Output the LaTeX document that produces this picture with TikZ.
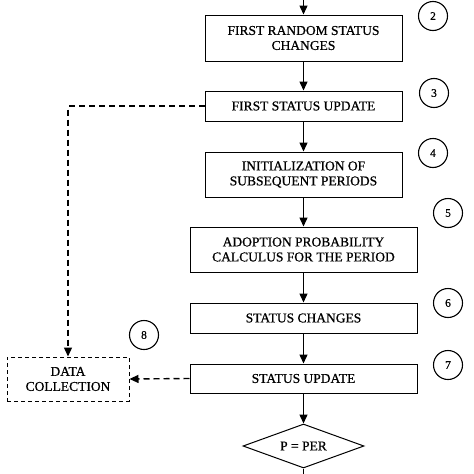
\documentclass[tikz,border=0pt]{standalone}
\usepackage{fontspec}
\setmainfont{Liberation Serif}
\newfontfamily\boxfont{Liberation Serif}[FakeBold=0.7]
\usetikzlibrary{arrows.meta,shapes.geometric}

\tikzset{
  stepbox/.style={draw, line width=1pt, fill=white, align=center, inner sep=2pt,
    font=\boxfont\fontsize{13.5}{15}\selectfont},
  numcirc/.style={draw, circle, line width=1.1pt, minimum size=29pt, inner sep=0pt,
    font=\boxfont\fontsize{11.5}{12}\selectfont},
  flow/.style={-{Triangle[length=9pt,width=8pt]}, line width=1.4pt},
  dflow/.style={flow, dash pattern=on 6pt off 4pt}
}

\begin{document}
\begin{tikzpicture}[x=1pt,y=-1pt]
  \useasboundingbox (0,0) rectangle (474,474);

  % main chain
  \node[stepbox, minimum width=197pt, minimum height=46pt] (first) at (303.5,38) {FIRST RANDOM STATUS\\CHANGES};
  \node[stepbox, minimum width=197pt, minimum height=30pt] (firstupd) at (303.5,106) {FIRST STATUS UPDATE};
  \node[stepbox, minimum width=197pt, minimum height=45pt] (init) at (303.5,174.5) {INITIALIZATION OF\\SUBSEQUENT PERIODS};
  \node[stepbox, minimum width=227pt, minimum height=45pt] (adopt) at (303.5,249.5) {ADOPTION PROBABILITY\\CALCULUS FOR THE PERIOD};
  \node[stepbox, minimum width=227pt, minimum height=30pt] (changes) at (303.5,318) {STATUS CHANGES};
  \node[stepbox, minimum width=227pt, minimum height=29pt] (update) at (303.5,378.5) {STATUS UPDATE};
  \node[stepbox, diamond, aspect=2.75, inner sep=1pt, minimum width=121pt, minimum height=44pt] (test) at (303.5,446) {P = PER};
  \node[stepbox, dash pattern=on 4pt off 3pt, minimum width=122pt, minimum height=44pt] (data) at (68,379) {DATA\\COLLECTION};

  % step numbers
  \node[numcirc] (c2) at (433,16) {2};
  \node[numcirc] (c3) at (434,93) {3};
  \node[numcirc] (c4) at (433,153) {4};
  \node[numcirc] (c5) at (448,213) {5};
  \node[numcirc] (c6) at (448,303) {6};
  \node[numcirc] (c7) at (448,365) {7};
  \node[numcirc] (c8) at (144,335) {8};

  \coordinate (top) at (303.5,0);
  \coordinate (bottom) at (303.5,474);
  \coordinate (bend) at (68,106);

  \draw[flow] (top) -- (first);
  \draw[flow] (first) -- (firstupd);
  \draw[flow] (firstupd) -- (init);
  \draw[flow] (init) -- (adopt);
  \draw[flow] (adopt) -- (changes);
  \draw[flow] (changes) -- (update);
  \draw[flow] (update) -- (test);
  \draw[line width=1.4pt] (test) -- (bottom);

  \draw[dflow] (firstupd.west) -- (bend) -- (data.north);
  \draw[dflow] (update.west) -- (data.east);

\end{tikzpicture}
\end{document}
